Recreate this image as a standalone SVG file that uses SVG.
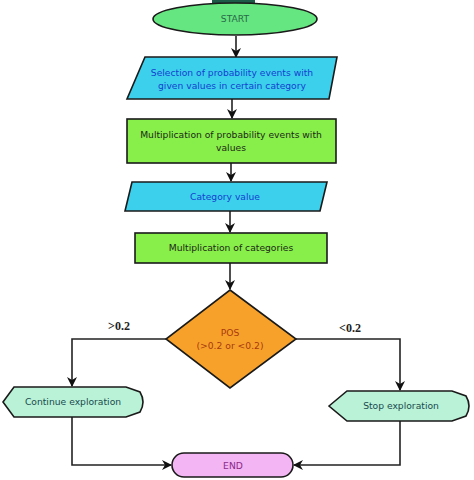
<svg xmlns="http://www.w3.org/2000/svg" width="474" height="480" viewBox="0 0 474 480">
<defs>
<marker id="ah" viewBox="0 0 10 10" refX="9" refY="5" markerWidth="10" markerHeight="10" markerUnits="userSpaceOnUse" orient="auto">
<path d="M0,0 L10,5 L0,10 L3,5 Z" fill="#111"/>
</marker>
<style>
.s{stroke:#1a1a1a;stroke-width:1.6}
.t{font-family:"DejaVu Sans",sans-serif;font-size:9.2px;text-anchor:middle}
.c{fill:none;stroke:#222;stroke-width:1.6}
.a{marker-end:url(#ah)}
.lbl{font-family:"Liberation Serif",serif;font-weight:bold;font-size:12px;fill:#222;text-anchor:middle}
</style>
</defs>
<rect width="474" height="480" fill="#fff"/>
<rect x="212" y="0" width="43" height="3" fill="#1d5a48"/>
<g id="connectors">
<path class="c a" d="M236,36 V57"/>
<path class="c a" d="M232,99 V118"/>
<path class="c a" d="M231,163 V181"/>
<path class="c a" d="M230,211 V232"/>
<path class="c a" d="M230,263 V289"/>
<path class="c a" d="M166,339 H72 V386"/>
<path class="c a" d="M296,339 H400 V390"/>
<path class="c a" d="M72,417 V465 H171"/>
<path class="c a" d="M400,421 V465 H294"/>
<text class="lbl" x="119" y="330">&gt;0.2</text>
<text class="lbl" x="350" y="332">&lt;0.2</text>
</g>
<g id="start">
<ellipse class="s" cx="235" cy="19" rx="82" ry="16" fill="#66e680"/>
<text class="t" x="235" y="22" fill="#2a6a4a">START</text>
</g>
<g id="selection">
<polygon class="s" points="145,57 337,57 329,99 127,99" fill="#3cd0ec"/>
<text class="t" x="232" y="76" fill="#1442d0">Selection of probability events with</text>
<text class="t" x="232" y="89" fill="#1442d0">given values in certain category</text>
</g>
<g id="mult1">
<rect class="s" x="127" y="119" width="209" height="44" fill="#88ee4a"/>
<text class="t" x="231" y="138" fill="#1c2a18">Multiplication of probability events with</text>
<text class="t" x="231" y="151" fill="#1c2a18">values</text>
</g>
<g id="catval">
<polygon class="s" points="132,182 327,182 320,211 125,211" fill="#3cd0ec"/>
<text class="t" x="225" y="200" fill="#1442d0">Category value</text>
</g>
<g id="mult2">
<rect class="s" x="135" y="233" width="192" height="30" fill="#88ee4a"/>
<text class="t" x="231" y="251" fill="#1c2a18">Multiplication of categories</text>
</g>
<g id="pos">
<polygon class="s" points="230,290 296,339 230,388 166,339" fill="#f7a12a"/>
<text class="t" x="230" y="336" fill="#a83a10">POS</text>
<text class="t" x="230" y="349" fill="#a83a10">(&gt;0.2 or &lt;0.2)</text>
</g>
<g id="continue">
<path class="s" d="M3,402 L14,387 H126 L140,392 Q146,402 140,412 L126,417 H14 Z" fill="#b9f2d6"/>
<text class="t" x="73" y="405" fill="#1a4a50">Continue exploration</text>
</g>
<g id="stop">
<path class="s" d="M329,406 L347,391 H452 L466,396 Q472,406 466,416 L452,421 H347 Z" fill="#b9f2d6"/>
<text class="t" x="401" y="409" fill="#1a4a50">Stop exploration</text>
</g>
<g id="end">
<rect class="s" x="172" y="453" width="121" height="24" rx="12" fill="#f3b5f3"/>
<text class="t" x="233" y="469" fill="#8a2a8a">END</text>
</g>
</svg>
